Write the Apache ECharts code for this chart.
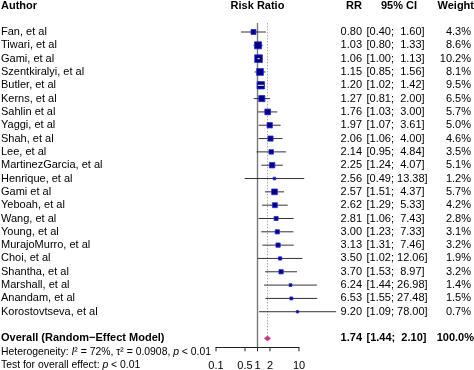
<!DOCTYPE html>
<html><head><meta charset="utf-8">
<script src="https://cdn.jsdelivr.net/npm/echarts@6/dist/echarts.min.js"></script>
<style>html,body{margin:0;padding:0;background:#fff}#c{width:474px;height:370px}</style>
</head><body><div id="c"></div>
<script>
const authors = ['Fan, et al','Tiwari, et al','Gami, et al','Szentkiralyi, et al','Butler, et al','Kerns, et al','Sahlin et al','Yaggi, et al','Shah, et al','Lee, et al','MartinezGarcia, et al','Henrique, et al','Gami et al','Yeboah, et al','Wang, et al','Young, et al','MurajoMurro, et al','Choi, et al','Shantha, et al','Marshall, et al','Anandam, et al','Korostovtseva, et al'];
const rr = [0.80,1.03,1.06,1.15,1.20,1.27,1.76,1.97,2.06,2.14,2.25,2.56,2.57,2.62,2.81,3.00,3.13,3.50,3.70,6.24,6.53,9.20];
const ciLow = [0.40,0.80,1.00,0.85,1.02,0.81,1.03,1.07,1.06,0.95,1.24,0.49,1.51,1.29,1.06,1.23,1.31,1.02,1.53,1.44,1.55,1.09];
const ciHigh = [1.60,1.33,1.13,1.56,1.42,2.00,3.00,3.61,4.00,4.84,4.07,13.38,4.37,5.33,7.43,7.33,7.46,12.06,8.97,26.98,27.48,78.00];
const weights = [4.3,8.6,10.2,8.1,9.5,6.5,5.7,5.0,4.6,3.5,5.1,1.2,5.7,4.2,2.8,3.1,3.2,1.9,3.2,1.4,1.5,0.7];
const overallLabel = 'Overall (Random\u2212Effect Model)';
const overallRR = 1.74, overallLow = 1.44, overallHigh = 2.10, overallWeight = 100.0;
const hetI2 = '72%', hetTau2 = '0.0908', hetP = '< 0.01', testP = '< 0.01';
const tickValues = [0.1, 0.5, 1, 2, 10];
const tickLabels = ['0.1', '0.5', '1', '2', '10'];
const headers = ['Author', 'Risk Ratio', 'RR', '95% CI', 'Weight'];

const FONT = '"Liberation Sans", Arial, sans-serif';
const Y_MIN = -2, Y_MAX = 23.67, OVERALL_ROW = 23;
const X_RR_RIGHT = 362, X_CI_LEFT = 366.5, X_W_RIGHT = 471, X_CI_CENTER = 399;

function f2(v){ return v.toFixed(2); }
function ciString(lo, hi){
  let h = f2(hi); while (h.length < 5) h = ' ' + h;
  return '[' + f2(lo) + '; ' + h + ']';
}

const chart = echarts.init(document.getElementById('c'), null, {renderer:'canvas'});

const studyData = rr.map((v,i)=>[v, i, ciLow[i], ciHigh[i], weights[i]]);

function txt(x, y, text, align, bold, size){
  return {type:'text', style:{x:x, y:y, text:text, align:align, verticalAlign:'middle',
    fontFamily:FONT, fontSize:size||11, fontWeight:bold?'bold':'normal', fill:'#000'}};
}

chart.setOption({
  animation:false,
  grid:{left:216, right:175, top:5.36, bottom:22.7, containLabel:false},
  xAxis:{type:'log', logBase:10, min:0.1, max:10,
    axisLine:{show:true, onZero:false, lineStyle:{color:'#222', width:1}},
    axisTick:{show:false}, axisLabel:{show:false}, splitLine:{show:false}},
  yAxis:{type:'value', inverse:true, min:Y_MIN, max:Y_MAX, show:false,
    splitLine:{show:false}, axisLine:{show:false}},
  series:[
    { // reference lines
      type:'custom', silent:true, clip:false,
      data:[[1, Y_MIN], [overallRR, Y_MIN]],
      encode:{x:0, y:1},
      renderItem(params, api){
        const v = api.value(0);
        const top = api.coord([v, -0.68]);
        if (params.dataIndex === 0){
          const bot = api.coord([v, Y_MAX]);
          return {type:'line', shape:{x1:top[0], y1:top[1], x2:bot[0], y2:bot[1]},
            style:{stroke:'#7a7a7a', lineWidth:1.4}};
        }
        const bot = api.coord([v, OVERALL_ROW]);
        return {type:'line', shape:{x1:top[0], y1:top[1], x2:bot[0], y2:bot[1]},
          style:{stroke:'#aaaaaa', lineWidth:1, lineDash:[1.5,1.5]}};
      }
    },
    { // studies
      type:'custom', silent:true, clip:false,
      data:studyData, encode:{x:0, y:1},
      renderItem(params, api){
        const y = api.value(1);
        const c = api.coord([api.value(0), y]);
        const lo = api.coord([api.value(2), y]);
        const hi = api.coord([api.value(3), y]);
        const s = Math.max(2.4, 2.4*Math.sqrt(api.value(4)));
        const h = s/2;
        const ch = [
          {type:'line', shape:{x1:lo[0], y1:c[1], x2:hi[0], y2:c[1]}, style:{stroke:'#333', lineWidth:1}},
          {type:'rect', shape:{x:c[0]-h, y:c[1]-h, width:s, height:s}, style:{fill:'#000080', stroke:'#2a2ae6', lineWidth:0.8}}
        ];
        if (lo[0] > c[0]-h && hi[0] < c[0]+h){
          ch.push({type:'line', shape:{x1:lo[0], y1:c[1], x2:hi[0], y2:c[1]}, style:{stroke:'#fff', lineWidth:1}});
        }
        return {type:'group', children:ch};
      }
    },
    { // overall diamond
      type:'custom', silent:true, clip:false,
      data:[[overallRR, OVERALL_ROW, overallLow, overallHigh]], encode:{x:0, y:1},
      renderItem(params, api){
        const y = api.value(1);
        const c = api.coord([api.value(0), y]);
        const lo = api.coord([api.value(2), y]);
        const hi = api.coord([api.value(3), y]);
        return {type:'polygon', shape:{points:[[lo[0],c[1]],[c[0],c[1]-2.6],[hi[0],c[1]],[c[0],c[1]+2.6]]},
          style:{fill:'#cc3388', stroke:'#dd66aa', lineWidth:0.6}};
      }
    },
    { // ticks + labels
      type:'custom', silent:true, clip:false,
      data:tickValues.map((v,i)=>[v, Y_MAX]), encode:{x:0, y:1},
      renderItem(params, api){
        const p = api.coord([api.value(0), Y_MAX]);
        return {type:'group', children:[
          {type:'line', shape:{x1:p[0], y1:p[1], x2:p[0], y2:p[1]+4}, style:{stroke:'#222', lineWidth:1}},
          txt(p[0], p[1]+18.5, tickLabels[params.dataIndex], 'center', false, 11)
        ]};
      }
    },
    { // study text columns
      type:'custom', silent:true, clip:false,
      data:studyData, encode:{x:0, y:1},
      renderItem(params, api){
        const i = params.dataIndex;
        const y = api.coord([1, api.value(1)])[1];
        return {type:'group', children:[
          txt(1, y, authors[i], 'left', false),
          txt(X_RR_RIGHT, y, f2(rr[i]), 'right', false),
          txt(X_CI_LEFT, y, ciString(ciLow[i], ciHigh[i]), 'left', false),
          txt(X_W_RIGHT, y, weights[i].toFixed(1) + '%', 'right', false)
        ]};
      }
    },
    { // header, overall, heterogeneity text
      type:'custom', silent:true, clip:false,
      data:[[1, Y_MIN]], encode:{x:0, y:1},
      renderItem(params, api){
        const hy = api.coord([1, Y_MIN]);
        const oy = api.coord([1, OVERALL_ROW])[1];
        const y24 = api.coord([1, OVERALL_ROW+1])[1];
        const y25 = api.coord([1, OVERALL_ROW+2])[1];
        const rich = {
          n:{fontFamily:FONT, fontSize:10.4, fill:'#000'},
          i:{fontFamily:FONT, fontSize:10.4, fontStyle:'italic', fill:'#000'}
        };
        return {type:'group', children:[
          txt(1, hy[1]+0.5, headers[0], 'left', true),
          txt(hy[0], hy[1]+0.5, headers[1], 'center', true),
          txt(X_RR_RIGHT, hy[1]+0.5, headers[2], 'right', true),
          txt(X_CI_CENTER, hy[1]+0.5, headers[3], 'center', true),
          txt(X_W_RIGHT+3, hy[1]+0.5, headers[4], 'right', true),
          txt(1, oy, overallLabel, 'left', true),
          txt(X_RR_RIGHT, oy, f2(overallRR), 'right', true),
          txt(X_CI_LEFT, oy, ciString(overallLow, overallHigh), 'left', true),
          txt(X_W_RIGHT+3, oy, overallWeight.toFixed(1) + '%', 'right', true),
          {type:'text', style:{x:1, y:y24, verticalAlign:'middle', align:'left',
            text:'{n|Heterogeneity: }{i|I}{n|\u00b2 = ' + hetI2 + ', \u03c4\u00b2 = ' + hetTau2 + ', }{i|p}{n| ' + hetP + '}',
            rich:rich, fontFamily:FONT, fontSize:10.4}},
          {type:'text', style:{x:1, y:y25, verticalAlign:'middle', align:'left',
            text:'{n|Test for overall effect: }{i|p}{n| ' + testP + '}',
            rich:rich, fontFamily:FONT, fontSize:10.4}}
        ]};
      }
    }
  ]
});
</script>
</body></html>
